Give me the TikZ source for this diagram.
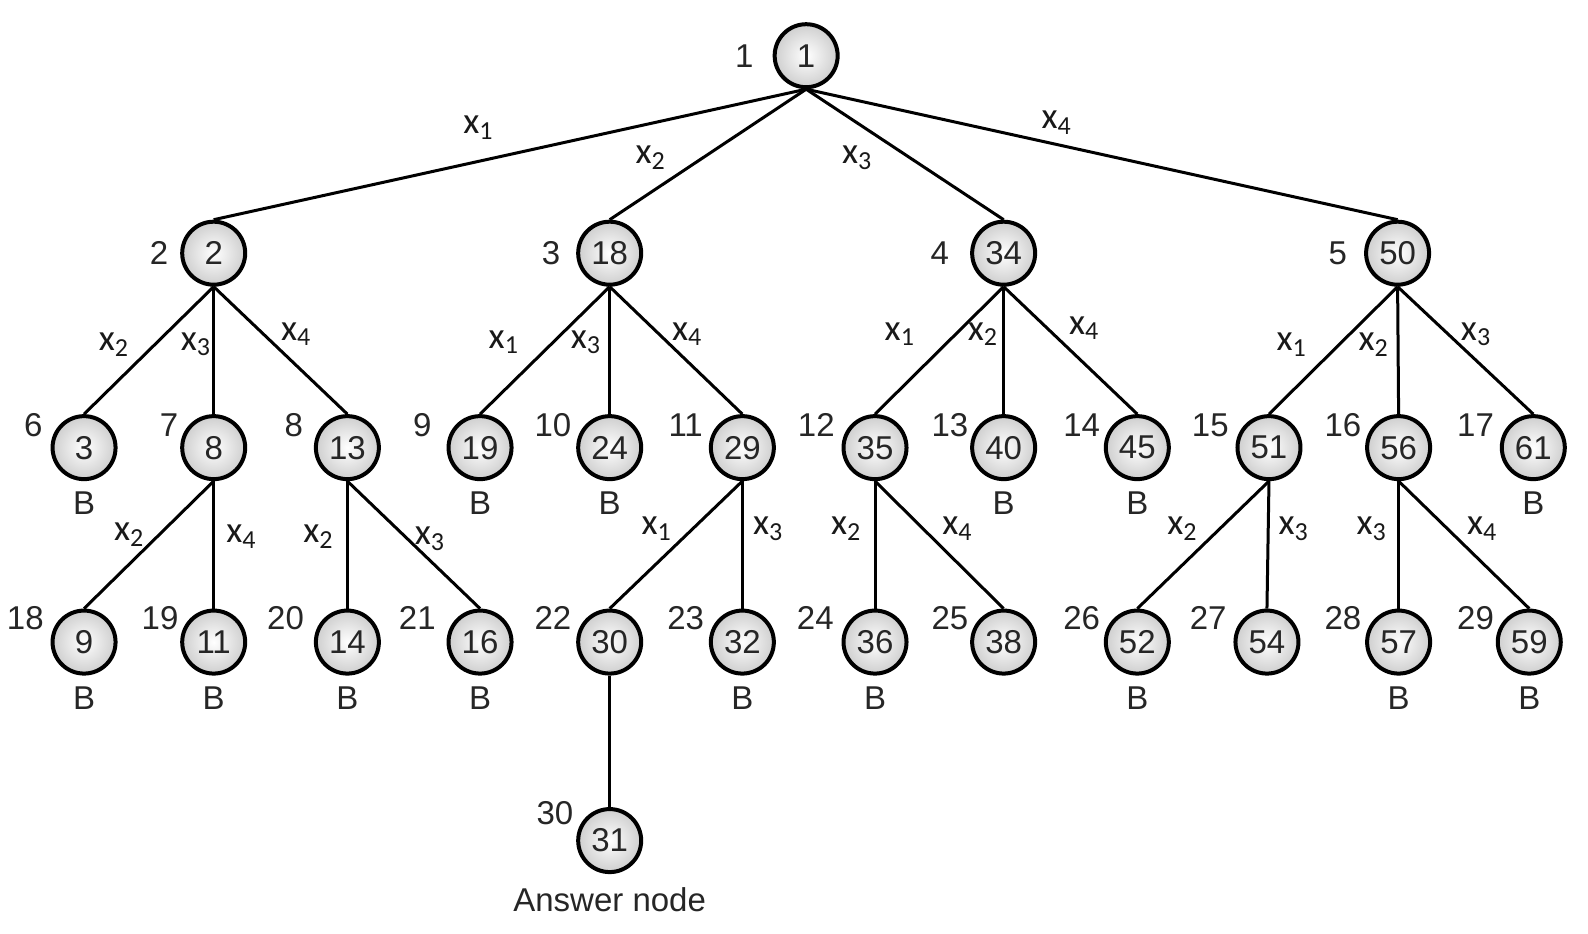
\documentclass[tikz,border=0pt]{standalone}
\usepackage{fontspec}
\setmainfont{Liberation Sans}
\newfontfamily\edgefont{Carlito}
\usetikzlibrary{calc}
\newcommand\xs[1]{x\raisebox{-0.32ex}{\fontsize{13}{13}\selectfont #1}}
\begin{document}
\begin{tikzpicture}[x=0.5064pt,y=-0.5064pt,
  tn/.style={circle,draw=black,line width=2pt,minimum size=31.5pt,inner sep=0pt,
    inner color=white,outer color=black!19,text=black!85,font=\fontsize{16.5}{16.5}\selectfont},
  idx/.style={inner sep=0pt,text=black!85,font=\fontsize{16.5}{16.5}\selectfont},
  bl/.style={inner sep=0pt,text=black!85,font=\fontsize{16.5}{16.5}\selectfont},
  el/.style={inner sep=0pt,text=black!90,font=\edgefont\fontsize{18.5}{18.5}\selectfont},
  ed/.style={line width=1.5pt,black}]
\useasboundingbox (0,0) rectangle (1568,922);

% tree nodes
\node[tn] (n1) at (796,55) {1};
\node[tn] (n2) at (211,250) {2};
\node[tn] (n18) at (602,250) {18};
\node[tn] (n34) at (991,250) {34};
\node[tn] (n50) at (1380,250) {50};
\node[tn] (n3) at (83,442) {3};
\node[tn] (n8) at (211,442) {8};
\node[tn] (n13) at (343,442) {13};
\node[tn] (n19) at (474,442) {19};
\node[tn] (n24) at (602,442) {24};
\node[tn] (n29) at (733,442) {29};
\node[tn] (n35) at (864,442) {35};
\node[tn] (n40) at (991,442) {40};
\node[tn] (n45) at (1123,442) {45};
\node[tn] (n51) at (1253,442) {51};
\node[tn] (n56) at (1381,442) {56};
\node[tn] (n61) at (1514,442) {61};
\node[tn] (n9) at (83,634) {9};
\node[tn] (n11) at (211,634) {11};
\node[tn] (n14) at (343,634) {14};
\node[tn] (n16) at (474,634) {16};
\node[tn] (n30) at (602,634) {30};
\node[tn] (n32) at (733,634) {32};
\node[tn] (n36) at (864,634) {36};
\node[tn] (n38) at (991,634) {38};
\node[tn] (n52) at (1123,634) {52};
\node[tn] (n54) at (1251,634) {54};
\node[tn] (n57) at (1381,634) {57};
\node[tn] (n59) at (1510,634) {59};
\node[tn] (n31) at (602,830) {31};

% edges
\foreach \p/\c in {n1/n2,n1/n18,n1/n34,n1/n50,
  n2/n3,n2/n8,n2/n13,n18/n19,n18/n24,n18/n29,n34/n35,n34/n40,n34/n45,n50/n51,n50/n56,n50/n61,
  n8/n9,n8/n11,n13/n14,n13/n16,n29/n30,n29/n32,n35/n36,n35/n38,n51/n52,n51/n54,n56/n57,n56/n59,
  n30/n31}
  \draw[ed] (\p.south) -- (\c.north);

% index labels
\node[idx] (i1) at (735,55) {1};
\node[idx] (i2) at (157,250) {2};
\node[idx] (i3) at (544,250) {3};
\node[idx] (i4) at (928,250) {4};
\node[idx] (i5) at (1321,250) {5};
\node[idx] (i6) at (33,420) {6};
\node[idx] (i7) at (167,420) {7};
\node[idx] (i8) at (290,420) {8};
\node[idx] (i9) at (417,420) {9};
\node[idx] (i10) at (546,420) {10};
\node[idx] (i11) at (677,420) {11};
\node[idx] (i12) at (806,420) {12};
\node[idx] (i13) at (938,420) {13};
\node[idx] (i14) at (1068,420) {14};
\node[idx] (i15) at (1195,420) {15};
\node[idx] (i16) at (1326,420) {16};
\node[idx] (i17) at (1457,420) {17};
\node[idx] (i18) at (25,610) {18};
\node[idx] (i19) at (158,610) {19};
\node[idx] (i20) at (282,610) {20};
\node[idx] (i21) at (412,610) {21};
\node[idx] (i22) at (546,610) {22};
\node[idx] (i23) at (677,610) {23};
\node[idx] (i24) at (805,610) {24};
\node[idx] (i25) at (938,610) {25};
\node[idx] (i26) at (1068,610) {26};
\node[idx] (i27) at (1193,610) {27};
\node[idx] (i28) at (1326,610) {28};
\node[idx] (i29) at (1457,610) {29};
\node[idx] (i30) at (548,803) {30};

% bound marks
\foreach \n in {n3,n19,n24,n40,n45,n61,n9,n11,n14,n16,n32,n36,n52,n57,n59}
  \node[bl] (b\n) at ($(\n)+(0,55)$) {B};
\node[bl] (ans) at ($(n31)+(0,58)$) {Answer node};

% edge labels
\node[el] (e1) at (472,126) {\xs{1}};
\node[el] (e2) at (642,156) {\xs{2}};
\node[el] (e3) at (846,156) {\xs{3}};
\node[el] (e4) at (1043,121) {\xs{4}};
\node[el] (e5) at (112,340) {\xs{2}};
\node[el] (e6) at (193,340) {\xs{3}};
\node[el] (e7) at (292,330) {\xs{4}};
\node[el] (e8) at (497,338) {\xs{1}};
\node[el] (e9) at (578,338) {\xs{3}};
\node[el] (e10) at (678,330) {\xs{4}};
\node[el] (e11) at (888,330) {\xs{1}};
\node[el] (e12) at (970,330) {\xs{2}};
\node[el] (e13) at (1070,324) {\xs{4}};
\node[el] (e14) at (1275,340) {\xs{1}};
\node[el] (e15) at (1356,340) {\xs{2}};
\node[el] (e16) at (1457,330) {\xs{3}};
\node[el] (e17) at (127,528) {\xs{2}};
\node[el] (e18) at (238,530) {\xs{4}};
\node[el] (e19) at (314,530) {\xs{2}};
\node[el] (e20) at (424,532) {\xs{3}};
\node[el] (e21) at (648,522) {\xs{1}};
\node[el] (e22) at (758,522) {\xs{3}};
\node[el] (e23) at (835,522) {\xs{2}};
\node[el] (e24) at (945,522) {\xs{4}};
\node[el] (e25) at (1167,522) {\xs{2}};
\node[el] (e26) at (1277,522) {\xs{3}};
\node[el] (e27) at (1354,522) {\xs{3}};
\node[el] (e28) at (1463,522) {\xs{4}};
\end{tikzpicture}
\end{document}
